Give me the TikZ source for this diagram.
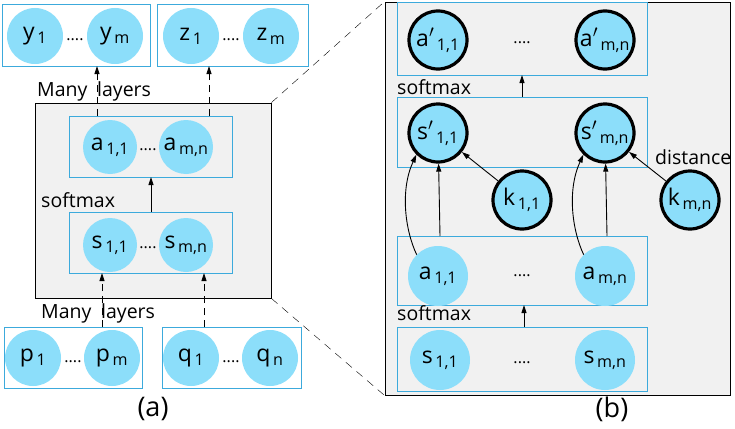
\documentclass[tikz,border=0pt]{standalone}
\usepackage{fontspec}
\setmainfont{Open Sans}
\usetikzlibrary{arrows.meta}
\definecolor{circ}{RGB}{140,222,250}
\definecolor{boxc}{RGB}{60,170,220}
\definecolor{panel}{RGB}{241,241,241}
\newcommand{\lab}[2]{#1\textsubscript{\,#2}}
\begin{document}
\begin{tikzpicture}[x=1pt,y=-1pt,
  grp/.style={draw=boxc,line width=1pt},
  cn/.style={circle,fill=circ,minimum size=#1,inner sep=0pt,font=\fontsize{23}{23}\selectfont},
  cn/.default=56pt,
  bn/.style={cn=58pt,draw=black,line width=3.2pt},
  dots/.style={font=\fontsize{16}{16}\selectfont},
  txt/.style={font=\fontsize{19.5}{20}\selectfont,inner sep=0pt},
  arr/.style={-{Triangle[length=8pt,width=5pt]},line width=0.9pt},
  darr/.style={arr,dash pattern=on 7pt off 5pt}]
\useasboundingbox (0,0) rectangle (735,428);
% panels
\node[draw=black,fill=panel,line width=0.9pt,minimum width=236pt,minimum height=195pt,inner sep=0pt] (ga) at (153,200.5) {};
\node[draw=black,fill=panel,line width=0.9pt,minimum width=345pt,minimum height=393pt,inner sep=0pt] (gb) at (557.5,198.5) {};
\draw[dash pattern=on 8pt off 6pt] (ga.north east) -- (gb.north west);
\draw[dash pattern=on 8pt off 6pt] (ga.south east) -- (gb.south west);
% (a) groups
\draw[grp,fill=white] (2,5) rectangle (150,66);
\draw[grp,fill=white] (157,5) rectangle (308,66);
\draw[grp] (69,116) rectangle (232,177);
\draw[grp] (69,212) rectangle (232,273);
\draw[grp,fill=white] (4,327) rectangle (142,388);
\draw[grp,fill=white] (162,327) rectangle (301,388);
\node[cn] (y1) at (35,36) {\lab{y}{1}};
\node[cn] (ym) at (115,36) {\lab{y}{m}};
\node[dots] at (75,40) {....};
\node[cn] (z1) at (191,36) {\lab{z}{1}};
\node[cn] (zm) at (271,36) {\lab{z}{m}};
\node[dots] at (231,40) {....};
\node[cn=54pt] (a11) at (110,147) {\lab{a}{1,1}};
\node[cn=54pt] (amn) at (186,147) {\lab{a}{m,n}};
\node[dots] at (148,150) {....};
\node[cn=54pt] (s11) at (110,245) {\lab{s}{1,1}};
\node[cn=54pt] (smn) at (186,245) {\lab{s}{m,n}};
\node[dots] at (148,248) {....};
\node[cn] (p1) at (33,358) {\lab{p}{1}};
\node[cn] (pm) at (112,358) {\lab{p}{m}};
\node[dots] at (73,362) {....};
\node[cn] (q1) at (191,358) {\lab{q}{1}};
\node[cn] (qn) at (270,358) {\lab{q}{n}};
\node[dots] at (231,362) {....};
\node[txt,anchor=west] at (37,91) {Many\enspace layers};
\node[txt,anchor=west] at (41,313) {Many\enspace layers};
\node[txt,anchor=west] at (41,200) {softmax};
\node[font=\fontsize{27}{27}\selectfont] at (153,409) {(a)};
\coordinate (a1) at (97,116); \coordinate (a2) at (97,66);
\coordinate (b1) at (209,116); \coordinate (b2) at (209,66);
\draw[darr] (a1) -- (a2);
\draw[darr] (b1) -- (b2);
\coordinate (c1) at (151,212); \coordinate (c2) at (151,177);
\draw[arr] (c1) -- (c2);
\coordinate (d1) at (102,327); \coordinate (d2) at (102,273);
\coordinate (e1) at (204,327); \coordinate (e2) at (204,273);
\draw[darr] (d1) -- (d2);
\draw[darr] (e1) -- (e2);
% (b)
\draw[grp] (397,3) rectangle (647,75);
\draw[grp] (397,97) rectangle (647,167);
\draw[grp] (397,236) rectangle (647,305);
\draw[grp] (397,327) rectangle (647,391);
\node[bn] (ap11) at (438,40) {a$'$\textsubscript{\,1,1}};
\node[bn] (apmn) at (605,40) {a$'$\textsubscript{\,m,n}};
\node[dots] at (522,43) {....};
\node[bn] (sp11) at (438,133) {s$'$\textsubscript{\,1,1}};
\node[bn] (spmn) at (605,133) {s$'$\textsubscript{\,m,n}};
\node[bn] (k11) at (522,200) {\lab{k}{1,1}};
\node[bn] (kmn) at (690,200) {\lab{k}{m,n}};
\node[cn=60pt] (ba11) at (438,276) {\lab{a}{1,1}};
\node[cn=60pt] (bamn) at (605,276) {\lab{a}{m,n}};
\node[dots] at (522,276) {....};
\node[cn=60pt] (bs11) at (440,360) {\lab{s}{1,1}};
\node[cn=60pt] (bsmn) at (605,360) {\lab{s}{m,n}};
\node[dots] at (522,363) {....};
\node[txt,anchor=west] at (397,87) {softmax};
\node[txt,anchor=west] at (655,157) {distance};
\node[txt,anchor=west] at (397,313) {softmax};
\node[font=\fontsize{27}{27}\selectfont] at (612,409) {(b)};
\coordinate (f1) at (522,97); \coordinate (f2) at (522,75);
\draw[arr] (f1) -- (f2);
\coordinate (g1) at (524,327); \coordinate (g2) at (524,305);
\draw[arr] (g1) -- (g2);
\coordinate (h1) at (440,236);
\draw[arr] (h1) -- (sp11);
\coordinate (h2) at (607,236);
\draw[arr] (h2) -- (spmn);
\draw[arr] (ba11.135) .. controls (405,230) and (400,190) .. (sp11.225);
\draw[arr] (bamn.135) .. controls (572,230) and (567,190) .. (spmn.225);
\draw[arr] (k11) -- (sp11);
\draw[arr] (kmn) -- (spmn);
\end{tikzpicture}
\end{document}
